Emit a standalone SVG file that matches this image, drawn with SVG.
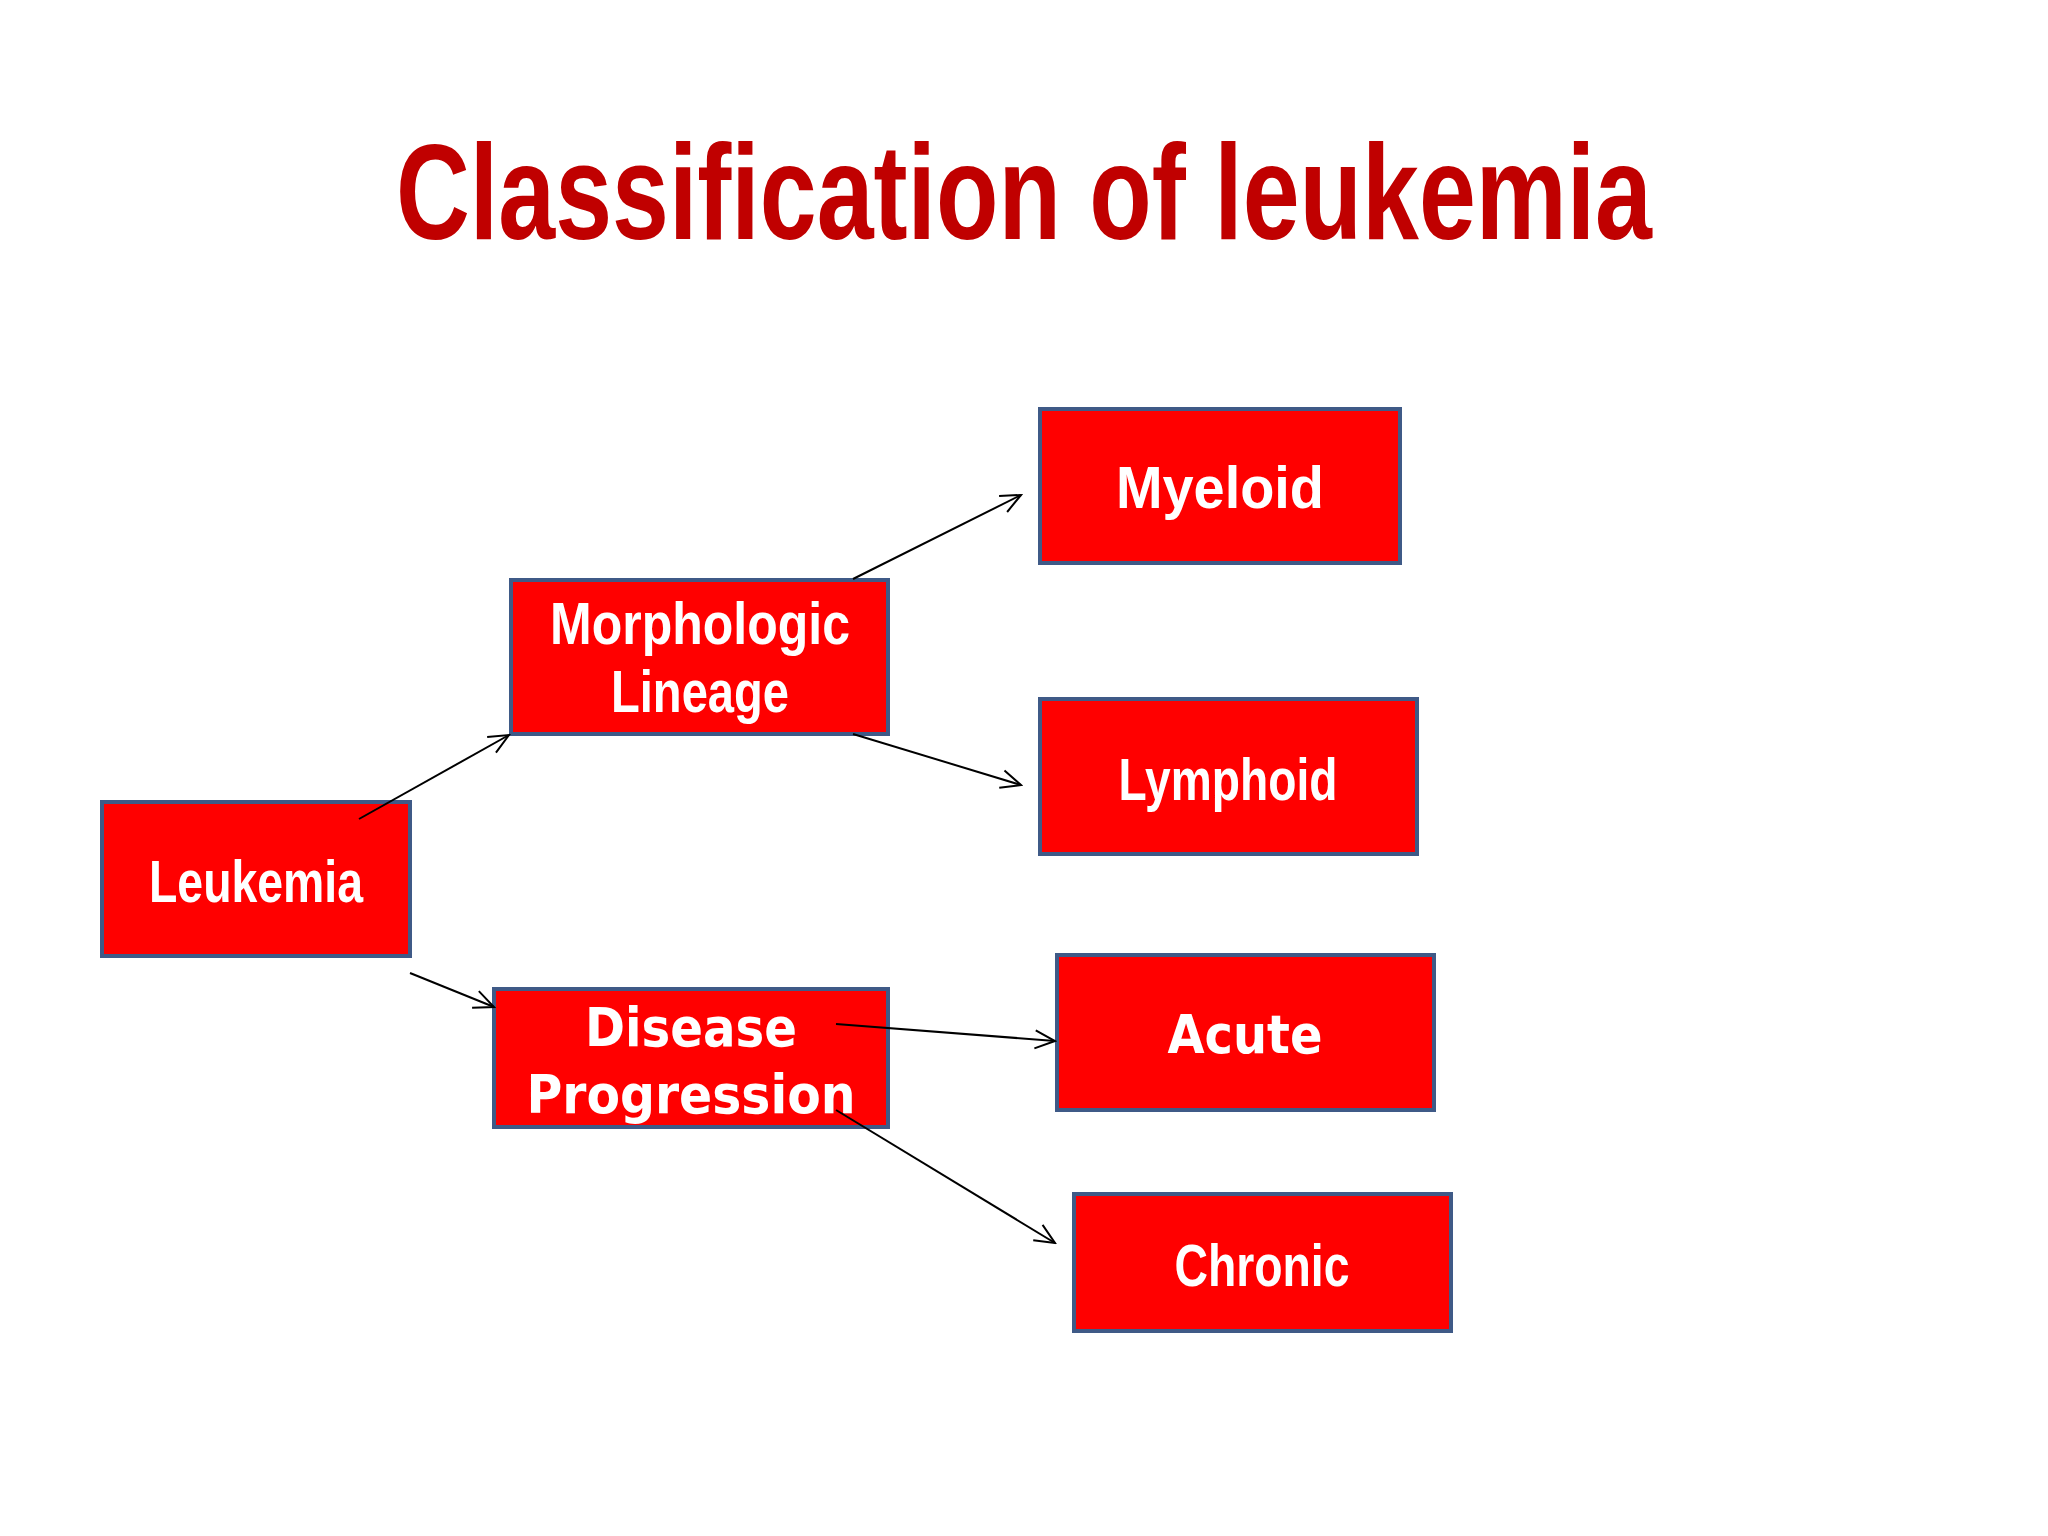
<svg xmlns="http://www.w3.org/2000/svg" width="2048" height="1536" viewBox="0 0 2048 1536">
<defs>
<style>
.box{fill:#FF0000;stroke:#3F5A87;stroke-width:4}
.n{font-family:"Liberation Sans",Arial,sans-serif;font-weight:bold;fill:#fff;font-size:60px;text-anchor:middle}
.w{font-family:"DejaVu Sans",Verdana,sans-serif;font-weight:bold;fill:#fff;font-size:54px;text-anchor:middle}
.c{stroke:#000;stroke-width:2;fill:none;marker-end:url(#a)}
</style>
<marker id="a" markerWidth="24" markerHeight="24" refX="22" refY="12" orient="auto" markerUnits="userSpaceOnUse">
<path d="M2,3 L22,12 L2,21" fill="none" stroke="#000" stroke-width="2"/>
</marker>
</defs>
<rect width="2048" height="1536" fill="#fff"/>
<text x="1024" y="239" font-family="Liberation Sans,Arial,sans-serif" font-weight="bold" font-size="136" fill="#C00000" text-anchor="middle" textLength="1256" lengthAdjust="spacingAndGlyphs">Classification of leukemia</text>
<g id="leukemia"><rect class="box" x="102" y="802" width="308" height="154"/><text class="n" x="256" y="902" textLength="214" lengthAdjust="spacingAndGlyphs">Leukemia</text></g>
<g id="morph"><rect class="box" x="511" y="580" width="377" height="154"/><text class="n" x="700" y="644" textLength="300" lengthAdjust="spacingAndGlyphs">Morphologic</text><text class="n" x="700" y="712" textLength="178" lengthAdjust="spacingAndGlyphs">Lineage</text></g>
<g id="myeloid"><rect class="box" x="1040" y="409" width="360" height="154"/><text class="n" x="1220" y="508" textLength="208" lengthAdjust="spacingAndGlyphs">Myeloid</text></g>
<g id="lymphoid"><rect class="box" x="1040" y="699" width="377" height="155"/><text class="n" x="1228" y="800" textLength="219" lengthAdjust="spacingAndGlyphs">Lymphoid</text></g>
<g id="disease"><rect class="box" x="494" y="989" width="394" height="138"/><text class="w" x="691" y="1046" textLength="212" lengthAdjust="spacingAndGlyphs">Disease</text><text class="w" x="691" y="1113" textLength="329" lengthAdjust="spacingAndGlyphs">Progression</text></g>
<g id="acute"><rect class="box" x="1057" y="955" width="377" height="155"/><text class="w" x="1245" y="1053" textLength="155" lengthAdjust="spacingAndGlyphs">Acute</text></g>
<g id="chronic"><rect class="box" x="1074" y="1194" width="377" height="137"/><text class="n" x="1262" y="1286" textLength="175" lengthAdjust="spacingAndGlyphs">Chronic</text></g>
<g id="connectors">
<line class="c" x1="359" y1="819" x2="509" y2="735"/>
<line class="c" x1="853" y1="579" x2="1021" y2="495"/>
<line class="c" x1="853" y1="734" x2="1021" y2="785"/>
<line class="c" x1="410" y1="973" x2="494" y2="1007"/>
<line class="c" x1="836" y1="1024" x2="1055" y2="1041"/>
<line class="c" x1="836" y1="1110" x2="1055" y2="1243"/>
</g>
</svg>
